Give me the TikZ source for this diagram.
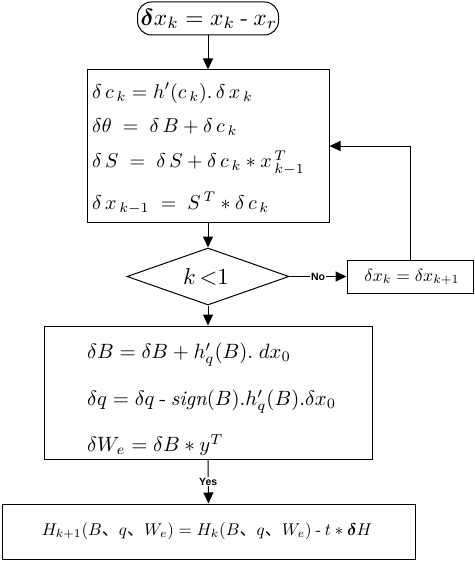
\documentclass[tikz,border=0pt]{standalone}
\usepackage{amsmath}
\usepackage{graphicx}
\usepackage{fontspec}
\newfontfamily\cjk{Noto Sans CJK SC}
\newfontfamily\labfont{Liberation Sans}
\usetikzlibrary{shapes.geometric,arrows.meta}
\newcommand{\hy}{\mathbin{\text{-}}}
\newcommand{\dun}{\text{\cjk 、}}
\newcommand{\sa}[1]{\scalebox{2.0}{$#1$}}
\newcommand{\sbb}[1]{\scalebox{2.07}{$#1$}}
\begin{document}
\begin{tikzpicture}[x=1pt,y=-1pt,
  every node/.style={inner sep=0pt},
  box/.style={draw, line width=1pt},
  ar/.style={-{Triangle[length=11pt,width=10pt]}, line width=1pt},
  eqa/.style={anchor=west},
  eqb/.style={anchor=west},
  lab/.style={font=\labfont\bfseries\fontsize{10.5}{11}\selectfont, fill=white, inner sep=1pt}]
\useasboundingbox (0,0) rectangle (474,583);
% start
\node[box, rounded corners=14pt, minimum width=141pt, minimum height=33pt] (start) at (208,18.5) {};
\node (st) at (209,19) {\scalebox{2.35}{$\boldsymbol{\delta} x_k = x_k \hy x_r$}};
% box 1
\node[box, minimum width=242pt, minimum height=152pt] (b1) at (208,146) {};
\node[eqa] (l1) at (92,93) {\sa{\delta\, c_{\,k} = h'(c_{\,k}).\,\delta\, x_{\,k}}};
\node[eqa] (l2) at (92,127) {\sa{\delta\theta \;=\; \delta\, B + \delta\, c_{\,k}}};
\node[eqa] (l3) at (92,163) {\sa{\delta\, S \;=\; \delta\, S + \delta\, c_{\,k} * x_{\,k-1}^{\,T}}};
\node[eqa] (l4) at (92,203) {\sa{\delta\, x_{\,k-1} \;=\; S^{\,T} * \delta\, c_{\,k}}};
% diamond
\node[box, diamond, minimum width=162pt, minimum height=57pt] (dec) at (208,276.5) {};
\node (dt) at (206,277) {\scalebox{2.3}{$k\,{<}1$}};
% no box
\node[box, minimum width=126pt, minimum height=33pt] (bx) at (410,276.5) {};
\node (bxt) at (412,277) {\scalebox{1.75}{$\delta x_k = \delta x_{k+1}$}};
% box 2
\node[box, minimum width=328pt, minimum height=133pt] (b2) at (208,392.5) {};
\node[eqb] (m1) at (87,355) {\sbb{\delta B = \delta B + h'_q(B).\; dx_0}};
\node[eqb] (m2) at (87,402) {\sbb{\delta q = \delta q \hy \mathit{sign}(B).h'_q(B).\delta x_0}};
\node[eqb] (m3) at (87,445) {\sbb{\delta W_e = \delta B * y^T}};
% box 3
\node[box, minimum width=413pt, minimum height=55pt] (b3) at (208.5,531.5) {};
\node (b3t) at (207,531) {\scalebox{1.7}{$H_{k+1}(B\dun q\dun W_e) = H_k(B\dun q\dun W_e) \hy t * {\boldsymbol{\delta}}H$}};
% connectors
\draw[ar] (start.south) -- (b1.north);
\draw[ar] (b1.south) -- (dec.north);
\draw[ar] (dec.east) -- node[lab] (no) {No} (bx.west);
\draw[ar] (bx.north) |- (b1.east);
\draw[ar] (dec.south) -- (b2.north);
\draw[ar] (b2.south) -- node[lab] (yes) {Yes} (b3.north);
\end{tikzpicture}
\end{document}
